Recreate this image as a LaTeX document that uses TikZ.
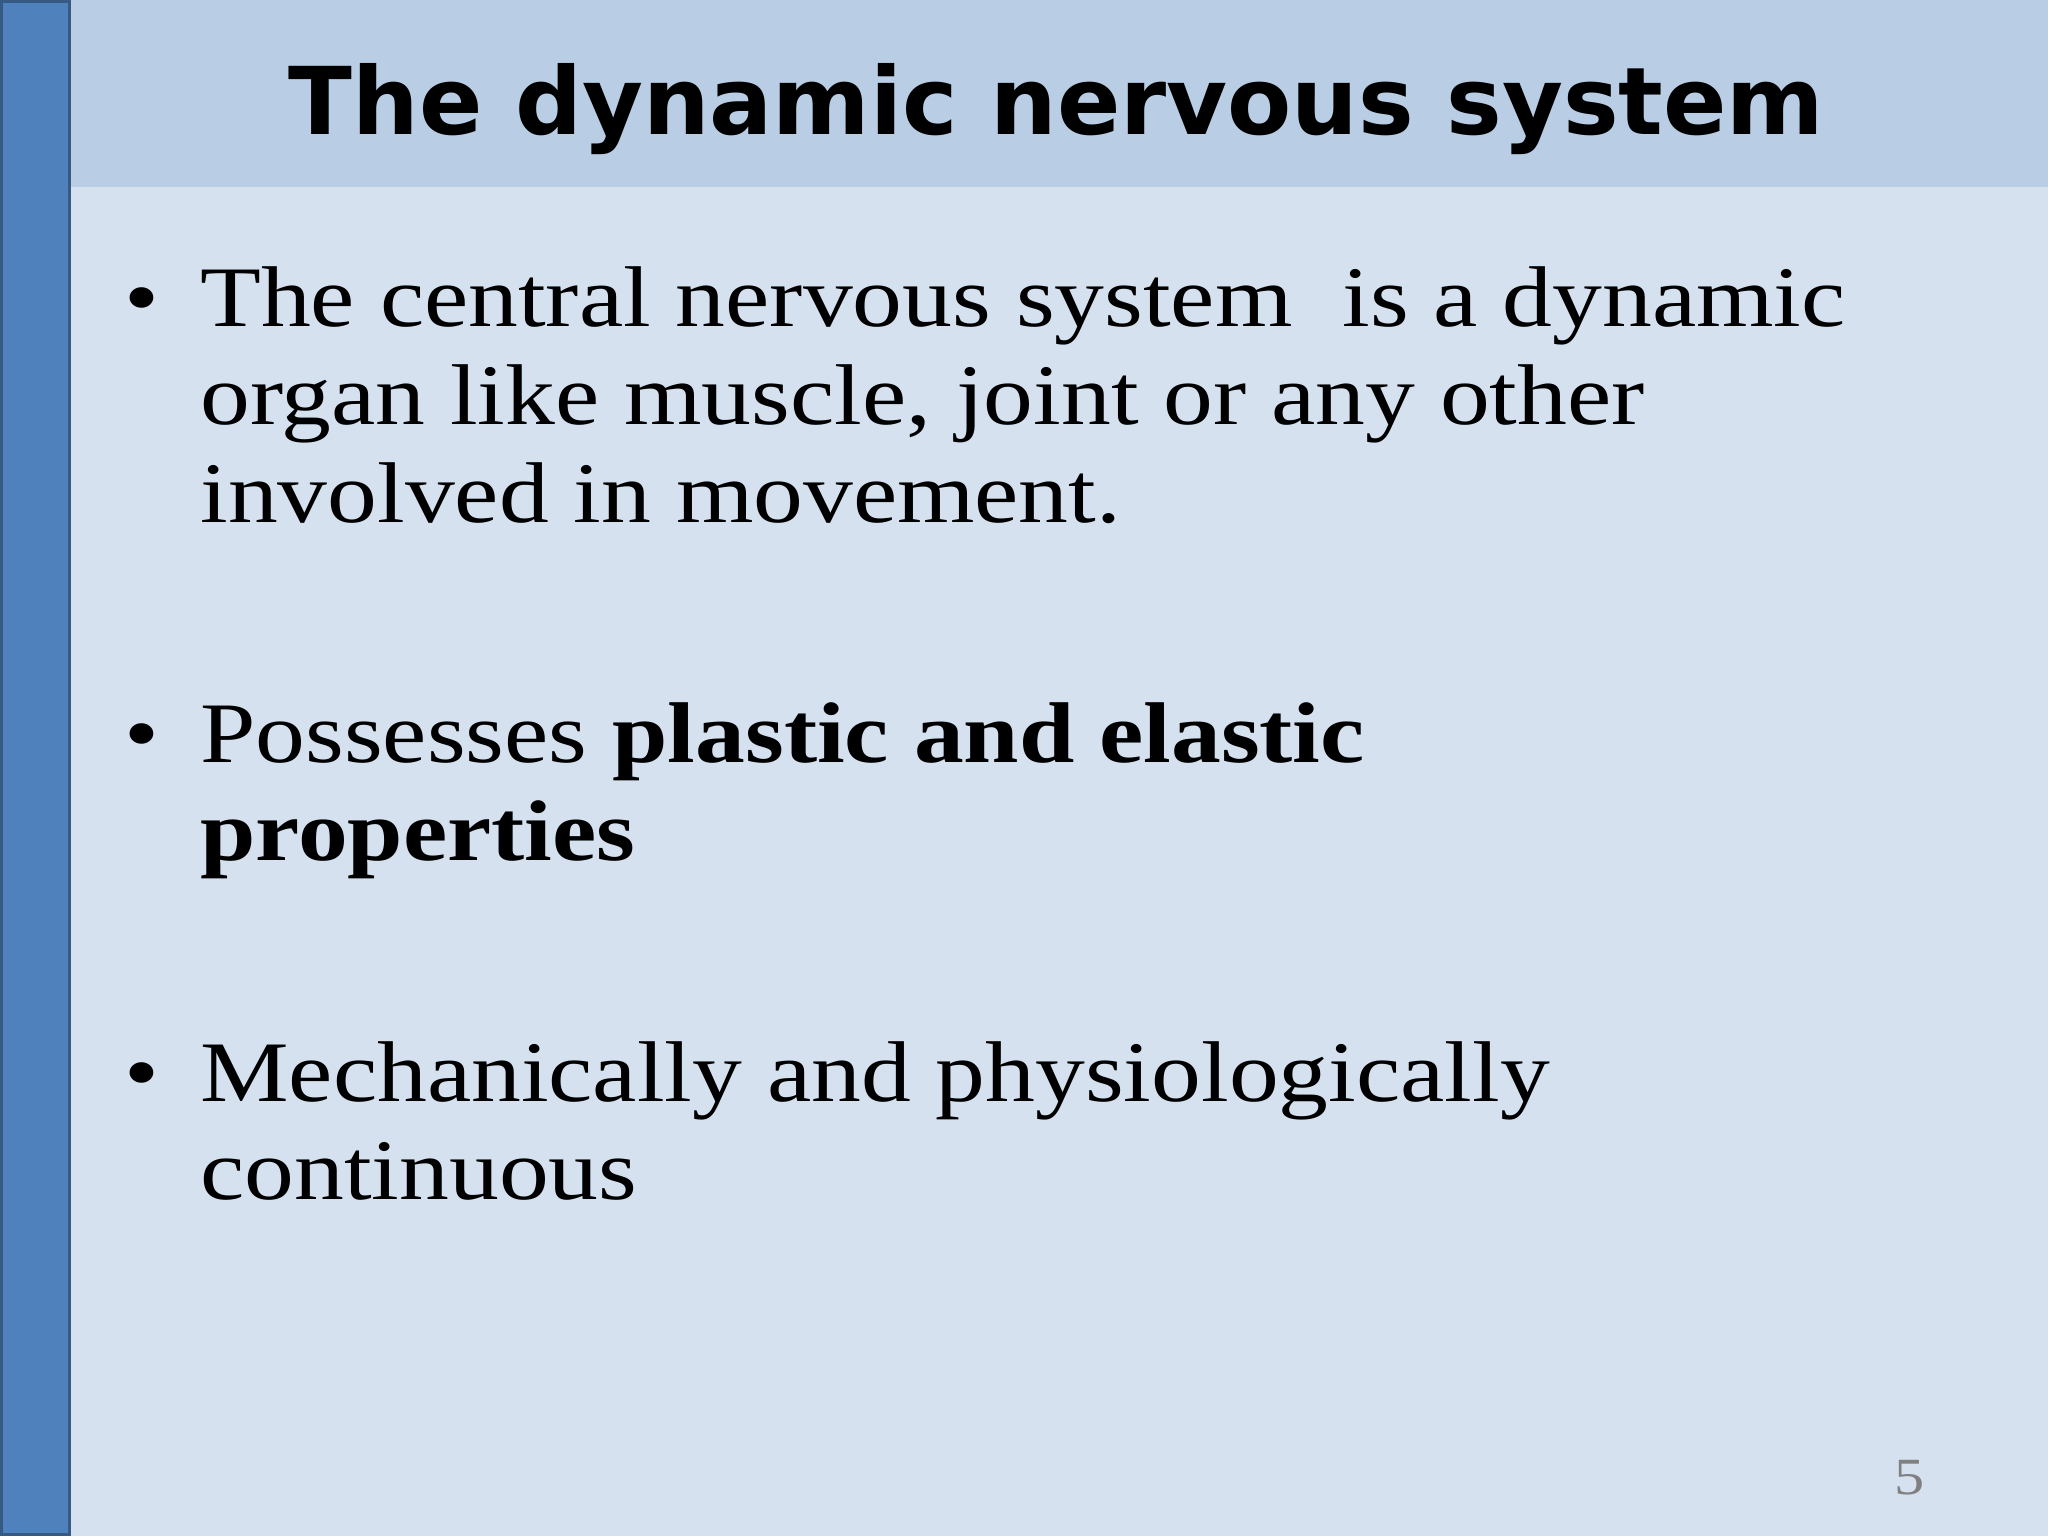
\documentclass[tikz,border=0pt]{standalone}
\usepackage{fontspec}
\setmainfont[FakeStretch=1.155]{Liberation Serif}
\newfontfamily\titlefont{DejaVu Sans}
\definecolor{barblue}{HTML}{4F81BD}
\definecolor{band}{HTML}{B9CDE5}
\definecolor{bodybg}{HTML}{D5E1EF}
\tikzset{bodytxt/.style={anchor=base west,inner sep=0pt,font=\fontsize{33}{37}\selectfont},
bul/.style={anchor=base west,inner sep=0pt,font=\fontsize{33}{37}\selectfont}}
\begin{document}
\begin{tikzpicture}[x=0.5pt,y=-0.5pt]
\useasboundingbox (0,0) rectangle (1568,1176);
\fill[bodybg] (0,0) rectangle (1568,1176);
\fill[band] (53,0) rectangle (1568,143);
\fill[barblue] (0,0) rectangle (53,1176);
\draw[barblue!70!black,line width=1pt] (1,1) rectangle (53,1175);
\node[inner sep=0pt,anchor=base,font=\titlefont\bfseries\fontsize{35.8}{40}\selectfont] (title) at (809,103) {The dynamic nervous system};
\node[bul] (b1) at (95,250) {•};
\node[bodytxt] (l1) at (153,250) {The central nervous system\ \ is a dynamic};
\node[bodytxt] (l2) at (153,325) {organ like muscle, joint or any other};
\node[bodytxt] (l3) at (153,400) {involved in movement.};
\node[bul] (b2) at (95,584) {•};
\node[bodytxt] (l4) at (153,584) {Possesses \textbf{plastic and elastic}};
\node[bodytxt] (l5) at (153,659) {\textbf{properties}};
\node[bul] (b3) at (95,843) {•};
\node[bodytxt] (l6) at (153,843) {Mechanically and physiologically};
\node[bodytxt] (l7) at (153,918) {continuous};
\node[inner sep=0pt,anchor=base,text=gray,font=\fontsize{20}{24}\selectfont] (pg) at (1462,1144) {5};
\end{tikzpicture}
\end{document}
